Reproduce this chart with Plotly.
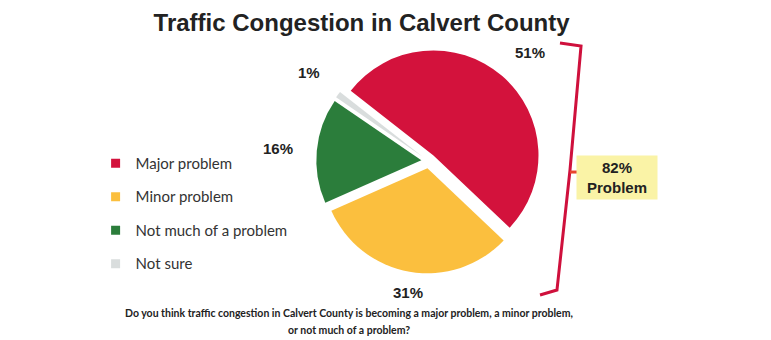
import math
import plotly.graph_objects as go

categories = ["Major problem", "Minor problem", "Not much of a problem", "Not sure"]
values = [51, 31, 16, 1]
labels_text = ["51%", "31%", "16%", "1%"]
colors = ["#d3123c", "#fbbf3e", "#2b7d3b", "#d9dddd"]

title = "Traffic Congestion in Calvert County"
question_lines = ["Do you think traffic congestion in Calvert County is becoming a major problem, a minor problem,",
                  "or not much of a problem?"]
bracket_label = "82%<br>Problem"

W, H = 771, 340
rotation = -52
pull = 0.07
dom_x = [0.409, 0.703]
dom_y = [0.196, 0.857]

fig = go.Figure()
fig.add_trace(go.Pie(
    labels=categories,
    values=values,
    textinfo="none",
    sort=False,
    direction="clockwise",
    rotation=rotation,
    pull=[pull] * len(values),
    marker=dict(colors=colors, line=dict(width=0)),
    domain=dict(x=dom_x, y=dom_y),
    showlegend=False,
    hoverinfo="label+percent",
))

# legend entries (dummy traces so items can be spaced like the original)
for cat, col in zip(categories, colors):
    fig.add_trace(go.Scatter(x=[None], y=[None], mode="markers", name=cat,
                             legendgroup=cat,
                             marker=dict(symbol="square", size=9, color=col)))

# percentage labels placed outside the slices, derived from the values
cx = (dom_x[0] + dom_x[1]) / 2 * W
cy = (1 - (dom_y[0] + dom_y[1]) / 2) * H
r = min((dom_x[1] - dom_x[0]) * W, (dom_y[1] - dom_y[0]) * H) / 2 / (1 + pull)
total = sum(values)
start = rotation
for v, t in zip(values, labels_text):
    span = v / total * 360
    mid = math.radians(start + span / 2)
    start += span
    ux, uy = math.sin(mid), -math.cos(mid)
    d = r * (1 + pull) + 8 + 14 * abs(ux)
    px, py = cx + ux * d, cy + uy * d
    xa = "left" if ux > 0.35 else ("right" if ux < -0.35 else "center")
    ya = "top" if uy > 0.35 else ("bottom" if uy < -0.35 else "middle")
    fig.add_annotation(x=px / W, y=1 - py / H, xref="paper", yref="paper",
                       text="<b>" + t + "</b>", showarrow=False,
                       xanchor=xa, yanchor=ya,
                       font=dict(family="Liberation Sans", size=15, color="#222222"))

fig.update_layout(
    width=W, height=H,
    margin=dict(l=0, r=0, t=0, b=0),
    paper_bgcolor="white",
    plot_bgcolor="white",
    xaxis=dict(visible=False),
    yaxis=dict(visible=False),
    title=dict(text="<b>" + title + "</b>", x=0.469, xanchor="center", y=0.935, yanchor="middle",
               font=dict(family="Liberation Sans", size=24, color="#222222")),
    legend=dict(x=0.124, y=0.568, xanchor="left", yanchor="top",
                font=dict(family="Lato", size=15, color="#333333"),
                tracegroupgap=11, itemwidth=30, traceorder="grouped",
                bgcolor="rgba(0,0,0,0)"),
)

# Bracket
fig.add_shape(type="path",
              path="M 0.7263 0.8735 L 0.7536 0.8647 L 0.7393 0.5 L 0.7224 0.1471 L 0.7004 0.1324",
              xref="paper", yref="paper",
              line=dict(color="#cf103c", width=3))
fig.add_shape(type="line", x0=0.7393, x1=0.7626, y0=0.494, y1=0.494,
              xref="paper", yref="paper", line=dict(color="#e8452e", width=3))

fig.add_annotation(x=0.8003, y=0.479, xref="paper", yref="paper",
                   xanchor="center", yanchor="middle",
                   text="<b>" + bracket_label + "</b>", showarrow=False,
                   font=dict(family="Liberation Sans", size=15, color="#222222"),
                   bgcolor="#faf3a6", borderpad=3, width=74)

fig.add_annotation(x=0.4527, y=1 - 313 / H, xref="paper", yref="paper",
                   xanchor="center", yanchor="middle",
                   text="<b>" + question_lines[0] + "</b>", showarrow=False,
                   font=dict(family="Lato", size=10.5, color="#222222"))
fig.add_annotation(x=0.4527, y=1 - 330 / H, xref="paper", yref="paper",
                   xanchor="center", yanchor="middle",
                   text="<b>" + question_lines[1] + "</b>", showarrow=False,
                   font=dict(family="Lato", size=10.5, color="#222222"))

fig.write_html("out.html")
